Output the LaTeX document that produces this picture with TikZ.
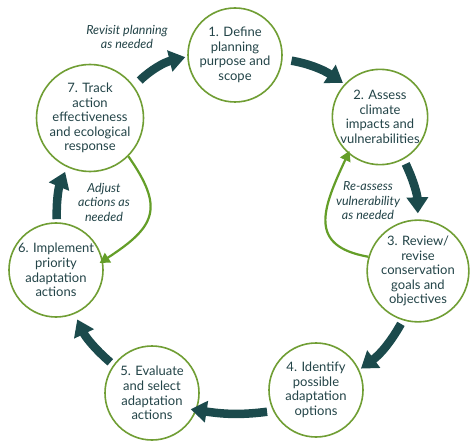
\documentclass[tikz,border=0pt]{standalone}
\usepackage{fontspec}
\setmainfont{Lato}
\usetikzlibrary{arrows.meta}
\definecolor{ringgreen}{RGB}{112,158,52}
\definecolor{arrowgreen}{RGB}{100,158,40}
\definecolor{darkteal}{RGB}{27,74,76}
\definecolor{textteal}{RGB}{35,68,72}
\begin{document}
\begin{tikzpicture}[x=1pt,y=1pt,
  stage/.style={circle, draw=ringgreen, line width=1.6pt, fill=white, minimum size=94pt, inner sep=0pt, align=center, text=textteal, font=\fontsize{13}{14.6}\selectfont},
  flow/.style={draw=darkteal, line width=8.5pt, -{Triangle[width=21pt,length=16pt]}},
  loopback/.style={draw=arrowgreen, line width=2.2pt, -{Triangle[width=11pt,length=10pt]}},
  note/.style={align=center, text=textteal, font=\itshape\fontsize{12.5}{14.5}\selectfont}]
\useasboundingbox (0,0) rectangle (474,445);
\fill[white] (0,0) rectangle (474,445);

\node[stage] (n1) at (235,390) {1. Define\\planning\\purpose and\\scope};
\node[stage] (n2) at (380,328) {2. Assess\\climate\\impacts and\\vulnerabilities};
\node[stage] (n3) at (418,174) {3. Review/\\revise\\conservation\\goals and\\objectives};
\node[stage] (n4) at (316,55) {4. Identify\\possible\\adaptation\\options};
\node[stage] (n5) at (152,52) {5. Evaluate\\and select\\adaptation\\actions};
\node[stage] (n6) at (56,175) {6. Implement\\priority\\adaptation\\actions};
\node[stage] (n7) at (90,327) {7. Track\\action\\effectiveness\\and ecological\\response};

\draw[flow, shorten <=8pt, shorten >=2pt] (n7.36) to[bend left=15] (n1.182);
\draw[flow, shorten <=9pt, shorten >=2pt] (n1.-5) to[bend left=12] (n2.137);
\draw[flow, shorten <=5pt, shorten >=6pt] (n2.-61) to[bend left=12] (n3.90);
\draw[flow, shorten <=4pt, shorten >=2pt] (n3.-107) to[bend left=12] (n4.25);
\draw[flow, shorten <=6pt, shorten >=-6pt] (n4.206) to[bend left=8] (n5.-21);
\draw[flow, shorten <=4pt, shorten >=6pt] (n5.144) to[bend left=12] (n6.-67);
\draw[flow, shorten <=3pt, shorten >=5pt] (n6.89) to[bend left=12] (n7.-115);

\draw[loopback, shorten >=-3pt] (n3.164) to[out=170, in=245, looseness=1.5] (n2.229);
\draw[loopback, shorten >=-4pt] (n7.-45) to[out=-55, in=33, looseness=1.5] (n6.11);

\node[note] (lrevisit) at (127,408) {Revisit planning\\as needed};
\node[note] (lreassess) at (368,244) {Re-assess\\vulnerability\\as needed};
\node[note] (ladjust) at (104,243) {Adjust\\actions as\\needed};
\end{tikzpicture}
\end{document}
